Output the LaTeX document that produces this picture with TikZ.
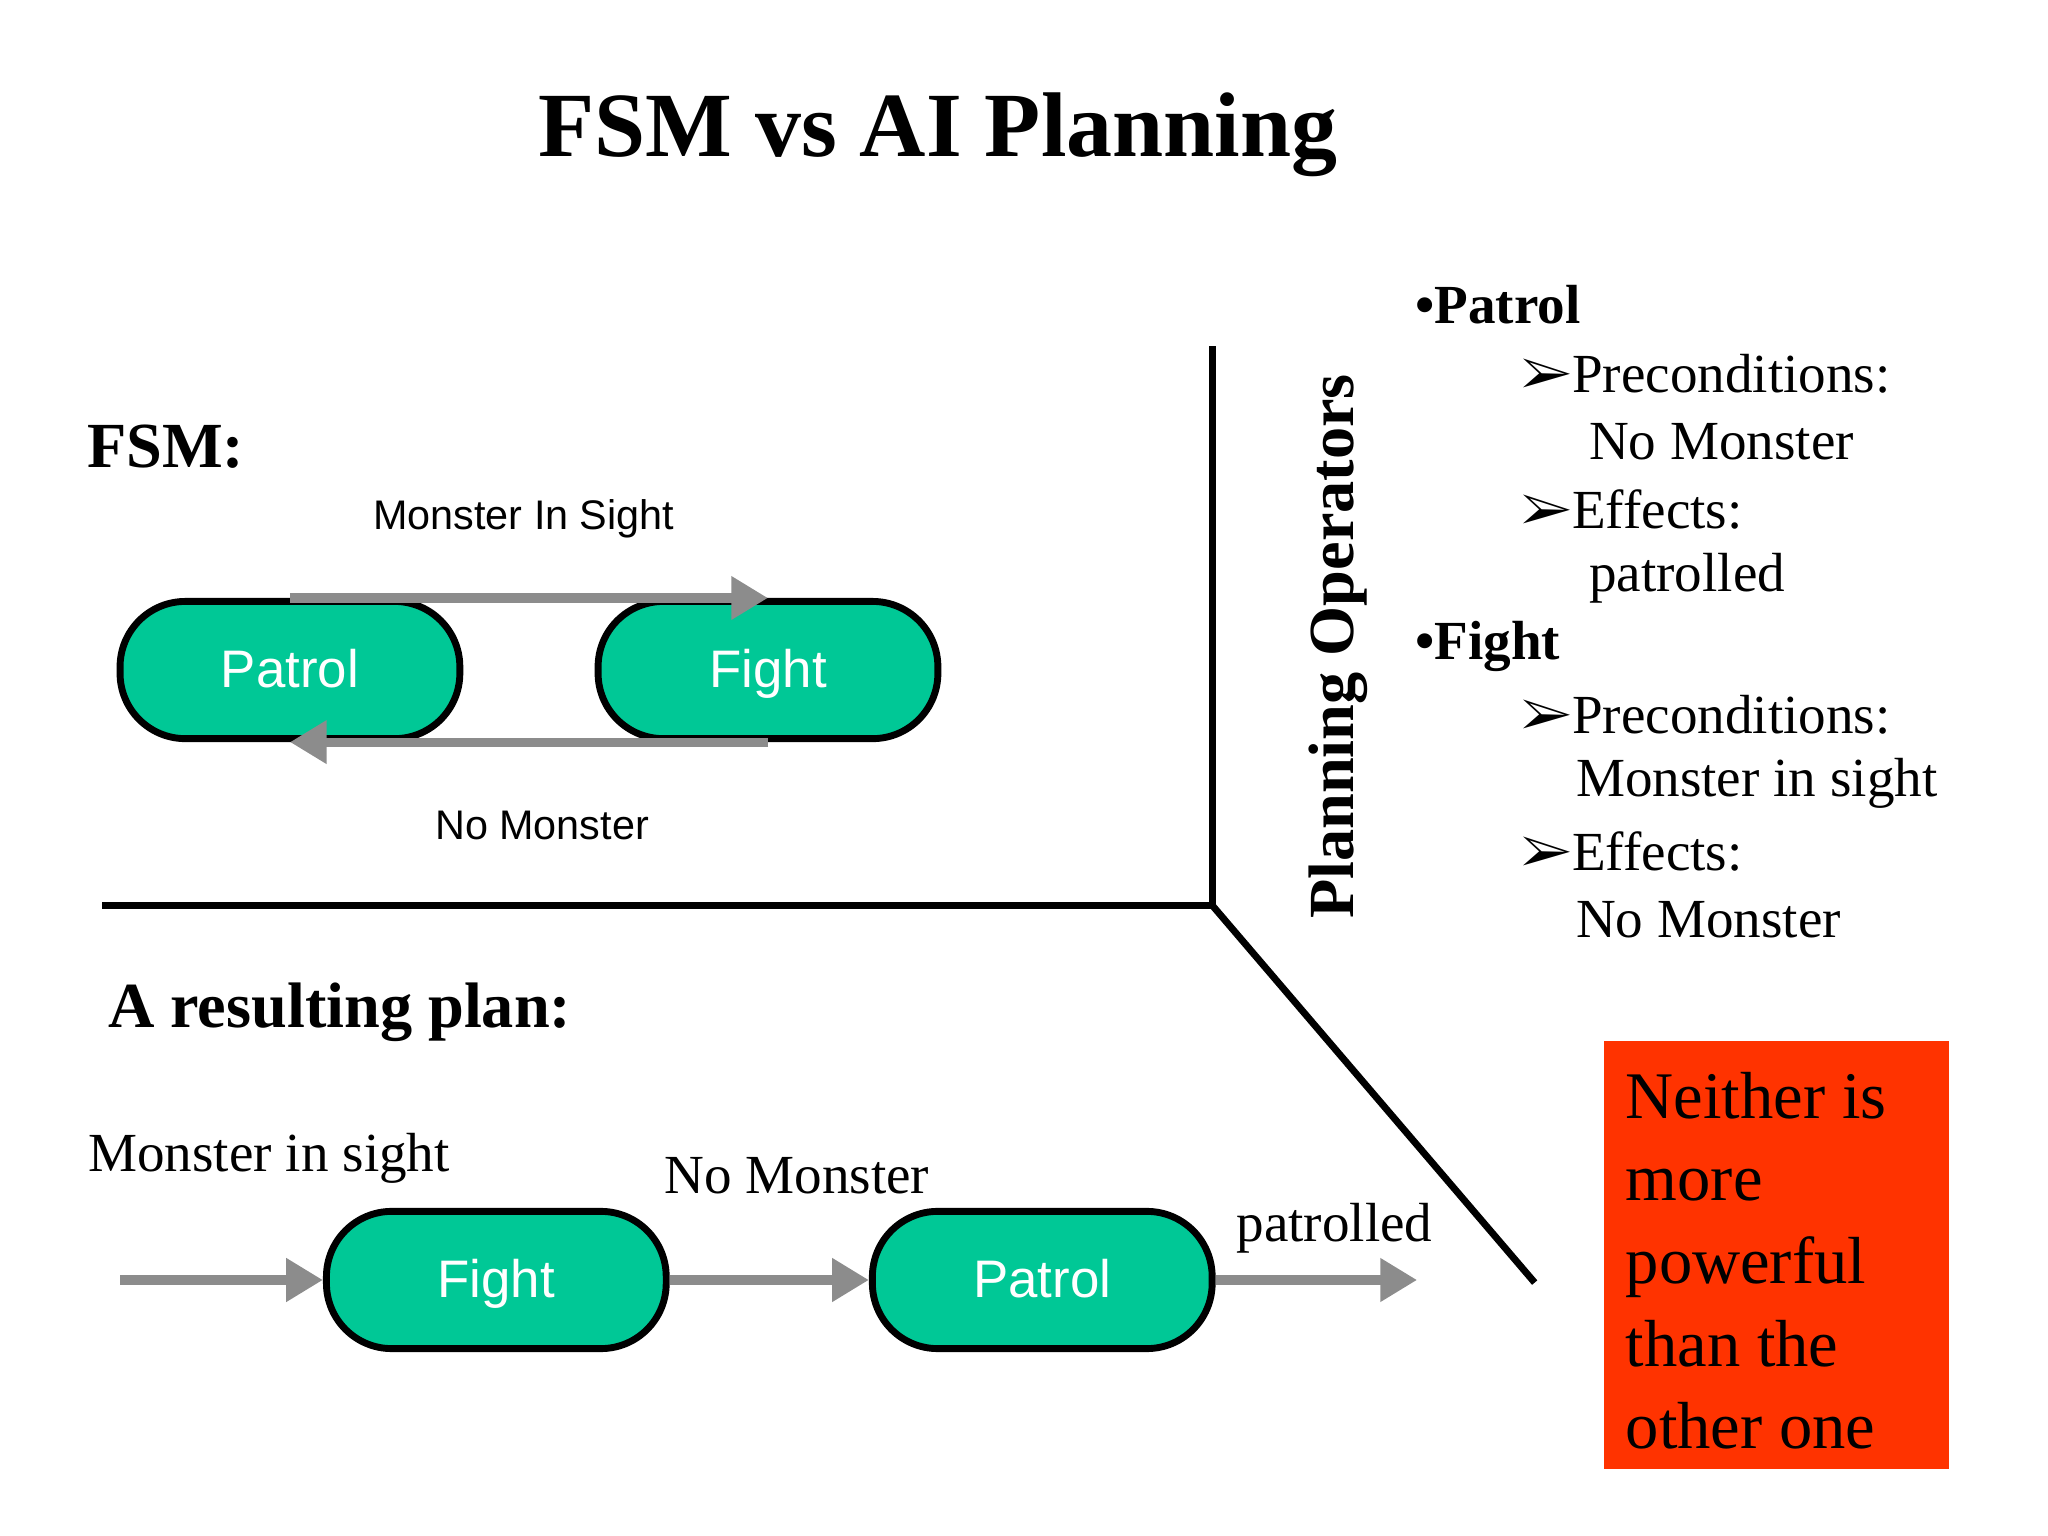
\documentclass[tikz,border=0pt]{standalone}
\usepackage{fontspec}
\setmainfont{Liberation Serif}
\newfontfamily\sans{Liberation Sans}
\usepackage{pifont}
\usetikzlibrary{arrows.meta}
\definecolor{pill}{HTML}{00C896}
\definecolor{redbox}{HTML}{FF3300}
\begin{document}
\begin{tikzpicture}[x=0.01cm,y=-0.01cm,
  state/.style={draw=black,line width=1.5pt,fill=pill,rounded corners=0.5cm,
    minimum width=2.6cm,minimum height=1.05cm,text=white,text height=2.2ex,text depth=0.5ex,
    font=\sans\fontsize{11.5}{13}\selectfont},
  flow/.style={draw=gray!90,line width=2pt,-{Triangle[length=8pt,width=9pt]}},
  axis/.style={line width=1.5pt},
  lbl/.style={font=\sans\fontsize{9}{11}\selectfont},
  body/.style={font=\fontsize{12}{15}\selectfont,anchor=west,inner sep=0pt}]
\useasboundingbox (0,0) rectangle (1568,1176);
% title
\node[font=\bfseries\fontsize{20}{24}\selectfont] (title) at (718,103) {FSM vs AI Planning};
% axes
\coordinate (top) at (928,265);
\coordinate (corner) at (928,693);
\coordinate (left) at (78,693);
\coordinate (diag) at (1175,982);
\draw[axis] (top) -- (corner) -- (left);
\draw[axis] (corner) -- (diag);
% FSM
\node[font=\bfseries\fontsize{14}{17}\selectfont,anchor=west,inner sep=0pt] (fsm) at (66,342) {FSM:};
\node[state] (p1) at (222,513) {Patrol};
\node[state] (f1) at (588,513) {Fight};
\draw[flow] (p1.north) -- (f1.north);
\draw[flow] (f1.south) -- (p1.south);
\node[lbl] (l1) at (401,397) {Monster In Sight};
\node[lbl] (l2) at (415,632) {No Monster};
% plan
\node[font=\bfseries\fontsize{14}{17}\selectfont,anchor=west,inner sep=0pt] (plan) at (82,775) {A resulting plan:};
\coordinate (start) at (92,980);
\coordinate (end) at (1085,980);
\node[state] (f2) at (380,980) {Fight};
\node[state] (p2) at (798,980) {Patrol};
\draw[flow] (start) -- (f2);
\draw[flow] (f2) -- (p2);
\draw[flow] (p2) -- (end);
\node[body] (m1) at (67,887) {Monster in sight};
\node[body] (m2) at (508,900) {No Monster};
\node[body] (m3) at (946,940) {patrolled};
% operators
\node[rotate=90,font=\bfseries\fontsize{14}{17}\selectfont] (ops) at (1025,495) {Planning Operators};
\node[body] at (1083,233) {\textbf{•Patrol}};
\node[body] at (1164,286) {\ding{226}Preconditions:};
\node[body] at (1216,338) {No Monster};
\node[body] at (1164,390) {\ding{226}Effects:};
\node[body] at (1216,443) {patrolled};
\node[body] at (1083,495) {\textbf{•Fight}};
\node[body] at (1164,547) {\ding{226}Preconditions:};
\node[body] at (1206,600) {Monster in sight};
\node[body] at (1164,652) {\ding{226}Effects:};
\node[body] at (1206,704) {No Monster};
% note
\fill[redbox] (1228,797) rectangle (1492,1125);
\node[anchor=north west,align=left,font=\fontsize{14.5}{18}\selectfont,inner sep=0pt] (note) at (1244,820)
  {Neither is\\more\\powerful\\than the\\other one};
\end{tikzpicture}
\end{document}
